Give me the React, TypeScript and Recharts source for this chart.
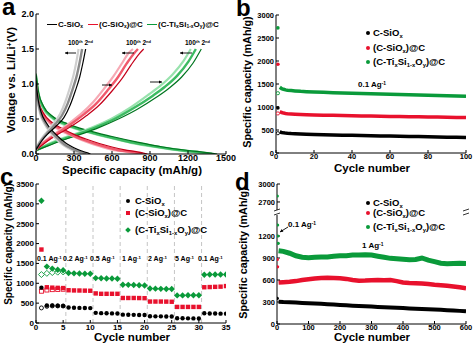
import React from 'react'
import { ComposedChart, Line, Scatter, XAxis, YAxis, ReferenceLine } from 'recharts'

const FONT = '"Liberation Sans", Arial, Helvetica, sans-serif'

// ---------- panel a : voltage profiles (capacity mAh/g, voltage V) ----------
const capTicks = [0, 300, 600, 900, 1200, 1500]
const voltTicks = [0, 0.5, 1.0, 1.5, 2.0]

const blackCharge2 = [[0, 0.06], [20, 0.12], [50, 0.2], [100, 0.3], [160, 0.4], [220, 0.52], [270, 0.7], [310, 0.9], [345, 1.1], [370, 1.3], [392, 1.5]]
const blackCharge50 = [[0, 0.06], [20, 0.13], [50, 0.21], [95, 0.31], [150, 0.42], [205, 0.55], [250, 0.72], [290, 0.93], [322, 1.12], [346, 1.32], [364, 1.5]]
const blackCharge100 = [[0, 0.06], [18, 0.14], [45, 0.22], [88, 0.32], [140, 0.44], [190, 0.57], [232, 0.75], [268, 0.95], [298, 1.14], [320, 1.33], [336, 1.5]]
const blackDis2 = [[0, 1.05], [15, 0.8], [40, 0.6], [80, 0.45], [130, 0.33], [180, 0.24], [240, 0.15], [300, 0.09], [350, 0.05], [400, 0.02], [430, 0]]
const blackDis50 = [[0, 1.0], [14, 0.78], [38, 0.58], [75, 0.44], [120, 0.32], [168, 0.23], [222, 0.14], [280, 0.08], [330, 0.04], [370, 0.02], [395, 0]]
const blackDis100 = [[0, 0.95], [13, 0.75], [35, 0.56], [70, 0.42], [112, 0.31], [155, 0.22], [205, 0.14], [258, 0.08], [300, 0.04], [338, 0.02], [360, 0]]

const redCharge2 = [[0, 0.06], [50, 0.13], [120, 0.22], [200, 0.31], [300, 0.42], [400, 0.55], [500, 0.7], [600, 0.9], [680, 1.08], [750, 1.27], [810, 1.42], [850, 1.5]]
const redCharge50 = [[0, 0.06], [48, 0.14], [115, 0.23], [190, 0.32], [285, 0.44], [380, 0.57], [475, 0.72], [570, 0.92], [648, 1.1], [715, 1.29], [770, 1.43], [805, 1.5]]
const redCharge100 = [[0, 0.06], [45, 0.15], [110, 0.24], [180, 0.33], [270, 0.45], [360, 0.58], [450, 0.74], [540, 0.94], [615, 1.12], [680, 1.3], [730, 1.44], [765, 1.5]]
const redDis2 = [[0, 1.0], [20, 0.75], [60, 0.58], [120, 0.46], [200, 0.37], [300, 0.28], [400, 0.21], [500, 0.15], [600, 0.1], [700, 0.06], [800, 0.03], [880, 0]]
const redDis50 = [[0, 0.98], [19, 0.74], [57, 0.57], [114, 0.45], [190, 0.36], [285, 0.27], [380, 0.2], [475, 0.14], [570, 0.09], [665, 0.05], [760, 0.03], [840, 0]]
const redDis100 = [[0, 0.95], [18, 0.72], [54, 0.56], [108, 0.44], [180, 0.35], [270, 0.27], [360, 0.2], [450, 0.14], [540, 0.09], [630, 0.05], [720, 0.03], [800, 0]]

const greenCharge2 = [[0, 0.05], [100, 0.12], [200, 0.19], [350, 0.28], [500, 0.38], [650, 0.5], [800, 0.64], [950, 0.81], [1050, 0.94], [1150, 1.1], [1240, 1.3], [1305, 1.5]]
const greenCharge50 = [[0, 0.05], [97, 0.13], [194, 0.2], [340, 0.29], [485, 0.39], [630, 0.51], [775, 0.66], [920, 0.83], [1018, 0.96], [1115, 1.12], [1203, 1.32], [1262, 1.5]]
const greenCharge100 = [[0, 0.05], [94, 0.14], [188, 0.21], [330, 0.3], [470, 0.4], [610, 0.52], [750, 0.67], [890, 0.85], [985, 0.98], [1080, 1.14], [1165, 1.33], [1222, 1.5]]
const greenDis2 = [[0, 1.15], [20, 0.88], [60, 0.68], [130, 0.54], [250, 0.43], [400, 0.34], [600, 0.25], [800, 0.17], [1000, 0.1], [1200, 0.05], [1350, 0.02], [1430, 0]]
const greenDis50 = [[0, 1.12], [19, 0.86], [58, 0.67], [126, 0.53], [242, 0.42], [388, 0.33], [582, 0.24], [776, 0.16], [970, 0.1], [1164, 0.05], [1310, 0.02], [1390, 0]]
const greenDis100 = [[0, 1.08], [18, 0.84], [56, 0.65], [122, 0.52], [234, 0.41], [375, 0.33], [563, 0.24], [750, 0.16], [940, 0.1], [1128, 0.05], [1270, 0.02], [1350, 0]]

// ---------- panel b : cycling at 0.1 A/g ----------
const cycleTicksB = [0, 20, 40, 60, 80, 100]
const capTicksB = [0, 500, 1000, 1500, 2000, 2500, 3000]
const bCycles = [2, 3, 4, 5, 6, 8, 10, 13, 16, 20, 25, 30, 35, 40, 45, 50, 55, 60, 65, 70, 75, 80, 85, 90, 95, 100]
const bBlack = [455, 445, 438, 432, 428, 422, 418, 412, 407, 402, 397, 392, 388, 384, 380, 376, 372, 368, 364, 360, 356, 352, 348, 344, 340, 336]
const bRed = [900, 880, 868, 860, 855, 850, 845, 838, 832, 827, 822, 818, 814, 810, 806, 802, 798, 795, 792, 789, 786, 783, 780, 777, 774, 770]
const bGreen = [1430, 1400, 1385, 1372, 1365, 1357, 1350, 1340, 1333, 1325, 1318, 1311, 1305, 1300, 1295, 1290, 1284, 1279, 1273, 1268, 1262, 1256, 1250, 1244, 1238, 1232]
const bFirstDis = [980, 1930, 2720] // black, red, green, cycle 1
const bFirstCha = [430, 860, 1300]

// ---------- panel c : rate capability ----------
const cycleTicksC = [0, 5, 10, 15, 20, 25, 30, 35]
const capTicksC = [0, 500, 1000, 1500, 2000, 2500, 3000, 3500]
const cCycles = [1, 2, 3, 4, 5, 6, 7, 8, 9, 10, 11, 12, 13, 14, 15, 16, 17, 18, 19, 20, 21, 22, 23, 24, 25, 26, 27, 28, 29, 30, 31, 32, 33, 34, 35]
const cBlack = [890, 440, 440, 435, 430, 390, 385, 380, 378, 375, 255, 248, 245, 242, 240, 210, 208, 205, 203, 200, 170, 168, 167, 165, 163, 120, 118, 117, 116, 115, 245, 240, 238, 236, 235]
const cRed = [1850, 900, 890, 885, 880, 825, 820, 818, 815, 812, 745, 735, 735, 735, 735, 630, 630, 630, 628, 625, 540, 540, 540, 538, 535, 405, 405, 405, 405, 405, 900, 905, 910, 915, 930]
const cGreen = [3080, 1420, 1370, 1340, 1330, 1260, 1250, 1245, 1240, 1240, 1130, 1125, 1120, 1120, 1115, 965, 960, 955, 950, 945, 870, 865, 860, 858, 855, 695, 695, 698, 700, 700, 1215, 1220, 1220, 1220, 1220]
const cChaCycles = [1, 2, 3, 4, 5]
const cBlackCha = [380, 420, 430, 430, 428]
const cRedCha = [800, 830, 840, 845, 850]
const cGreenCha = [1220, 1250, 1270, 1280, 1285]
const rateBounds = [5.5, 10.5, 15.5, 20.5, 25.5, 30.5]
const rateLabels = ['0.1', '0.2', '0.5', '1', '2', '5', '0.1']

// ---------- panel d : long cycling at 1 A/g (broken axis) ----------
const cycleTicksD = [0, 100, 200, 300, 400, 500, 600]
const capTicksD = [0, 300, 600, 900, 1200, 2700, 3000]
const dCycles = [5, 20, 40, 60, 80, 100, 120, 140, 160, 180, 200, 220, 240, 260, 280, 300, 320, 340, 360, 380, 400, 420, 440, 460, 480, 500, 520, 540, 560, 580, 600]
const dGreen = [1000, 990, 965, 930, 910, 905, 910, 915, 915, 925, 930, 932, 940, 940, 945, 940, 925, 910, 895, 890, 882, 875, 880, 900, 870, 850, 828, 820, 825, 828, 825]
const dRed = [565, 570, 575, 585, 600, 610, 620, 628, 630, 628, 625, 615, 600, 590, 592, 598, 600, 598, 600, 585, 565, 558, 556, 552, 545, 535, 528, 520, 512, 500, 488]
const dBlack = [305, 300, 296, 292, 288, 284, 280, 275, 270, 266, 260, 255, 250, 246, 241, 237, 233, 229, 225, 221, 217, 213, 209, 205, 201, 197, 193, 189, 185, 179, 173]
// first activation cycles at 0.1 A/g
const dGreenFirst = [[1, 2800], [2, 1350], [3, 1200], [4, 1100]]
const dRedFirst = [[1, 880], [2, 780]]
const dBlackFirst = [[1, 350]]

// broken axis: values above the break are compressed
const brk = (v: number) => (v <= 1500 ? v : 1664 + (v - 2700) * 0.8167)
const unbrk = (t: number) => (t <= 1500 ? t : Math.round(2700 + (t - 1664) / 0.8167))

const BLACK = '#000000'
const RED = '#e8112d'
const GREEN = '#0a9a3a'

const xy = (arr: number[][], f = (v: number) => v) => arr.map(([x, y]) => ({ x, y: f(y) }))
const zip = (xs: number[], ys: number[]) => xs.map((x, i) => ({ x, y: ys[i] }))

const tickStyle = (size: number) => ({ fontSize: size, fontWeight: 700, fill: '#000', fontFamily: FONT })

function Frame({ xDomain, xTicks, yDomain, yTicks, size, yFmt }: any) {
  return [
    <XAxis key="xb" type="number" dataKey="x" domain={xDomain} ticks={xTicks} interval={0} height={14}
      tickSize={-3} tickMargin={4} tick={tickStyle(size)} stroke="#000" allowDataOverflow />,
    <XAxis key="xt" xAxisId="top" orientation="top" type="number" domain={xDomain} ticks={xTicks} interval={0}
      height={0} tickSize={-3} tick={false} stroke="#000" allowDataOverflow />,
    <YAxis key="yl" type="number" dataKey="y" domain={yDomain} ticks={yTicks} interval={0} width={30}
      tickSize={-3} tickMargin={5} tick={tickStyle(size)} tickFormatter={yFmt} stroke="#000" allowDataOverflow />,
    <YAxis key="yr" yAxisId="right" orientation="right" type="number" domain={yDomain} ticks={yTicks} interval={0}
      width={0} tickSize={-3} tick={false} stroke="#000" allowDataOverflow />,
  ]
}

const curve = (key: string, data: number[][], color: string, w: number) => (
  <Line key={key} data={xy(data)} dataKey="y" type="monotone" stroke={color} strokeWidth={w}
    dot={false} isAnimationActive={false} />
)

function PanelA() {
  return (
    <ComposedChart width={240} height={175} margin={{ top: 14, right: 14, bottom: 7, left: 6 }}>
      {Frame({ xDomain: [0, 1500], xTicks: capTicks, yDomain: [0, 2], yTicks: voltTicks, size: 9, yFmt: (v: number) => v.toFixed(1) })}
      {curve('gd100', greenDis100, '#98e2ad', 2.2)}
      {curve('gd50', greenDis50, '#3cbb62', 2.4)}
      {curve('gd2', greenDis2, '#00751f', 1.2)}
      {curve('gc100', greenCharge100, '#98e2ad', 2.2)}
      {curve('gc50', greenCharge50, '#3cbb62', 2.4)}
      {curve('gc2', greenCharge2, '#00751f', 1.2)}
      {curve('rd100', redDis100, '#f6a9b4', 2.2)}
      {curve('rd50', redDis50, '#f0596c', 2.4)}
      {curve('rd2', redDis2, '#c4001a', 1.2)}
      {curve('rc100', redCharge100, '#f6a9b4', 2.2)}
      {curve('rc50', redCharge50, '#f0596c', 2.4)}
      {curve('rc2', redCharge2, '#c4001a', 1.2)}
      {curve('bd100', blackDis100, '#cfcfcf', 2.2)}
      {curve('bd50', blackDis50, '#8a8a8a', 2.4)}
      {curve('bd2', blackDis2, '#000', 1.2)}
      {curve('bc100', blackCharge100, '#cfcfcf', 2.2)}
      {curve('bc50', blackCharge50, '#8a8a8a', 2.4)}
      {curve('bc2', blackCharge2, '#000', 1.2)}
    </ComposedChart>
  )
}

const dotShape = (color: string, r: number, open = false) => (p: any) => (
  <circle cx={p.cx} cy={p.cy} r={r} fill={open ? '#fff' : color} stroke={color} strokeWidth={open ? 0.9 : 0} />
)
const squareShape = (color: string, s: number, open = false) => (p: any) => (
  <rect x={p.cx - s / 2} y={p.cy - s / 2} width={s} height={s} fill={open ? '#fff' : color} stroke={color} strokeWidth={open ? 0.9 : 0} />
)
const diamondShape = (color: string, s: number, open = false) => (p: any) => (
  <path d={`M${p.cx},${p.cy - s}L${p.cx + s},${p.cy}L${p.cx},${p.cy + s}L${p.cx - s},${p.cy}Z`}
    fill={open ? '#fff' : color} stroke={color} strokeWidth={open ? 0.9 : 0} />
)

function PanelB() {
  return (
    <ComposedChart width={234} height={175} margin={{ top: 15, right: 8, bottom: 8, left: 6 }}>
      {Frame({ xDomain: [0, 100], xTicks: cycleTicksB, yDomain: [0, 3000], yTicks: capTicksB, size: 7.5 })}
      <Line data={zip(bCycles, bBlack)} dataKey="y" type="linear" stroke={BLACK} strokeWidth={3.5} dot={false} isAnimationActive={false} />
      <Line data={zip(bCycles, bRed)} dataKey="y" type="linear" stroke={RED} strokeWidth={3.5} dot={false} isAnimationActive={false} />
      <Line data={zip(bCycles, bGreen)} dataKey="y" type="linear" stroke={GREEN} strokeWidth={3.5} dot={false} isAnimationActive={false} />
      <Scatter data={[{ x: 1, y: bFirstCha[0] }]} shape={dotShape(BLACK, 1.6, true)} isAnimationActive={false} />
      <Scatter data={[{ x: 1, y: bFirstCha[1] }]} shape={dotShape(RED, 1.6, true)} isAnimationActive={false} />
      <Scatter data={[{ x: 1, y: bFirstCha[2] }]} shape={dotShape(GREEN, 1.6, true)} isAnimationActive={false} />
      <Scatter data={[{ x: 1, y: bFirstDis[0] }]} shape={dotShape(BLACK, 1.8)} isAnimationActive={false} />
      <Scatter data={[{ x: 1, y: bFirstDis[1] }]} shape={dotShape(RED, 1.8)} isAnimationActive={false} />
      <Scatter data={[{ x: 1, y: bFirstDis[2] }]} shape={dotShape(GREEN, 1.8)} isAnimationActive={false} />
    </ComposedChart>
  )
}

function PanelC() {
  return (
    <ComposedChart width={240} height={171} margin={{ top: 9, right: 14, bottom: 9, left: 6 }}>
      {Frame({ xDomain: [0, 35], xTicks: cycleTicksC, yDomain: [0, 3500], yTicks: capTicksC, size: 8 })}
      {rateBounds.map((b) => (
        <ReferenceLine key={b} x={b} stroke="#b5b5b5" strokeDasharray="4 3" strokeWidth={0.8} />
      ))}
      <Scatter data={zip(cChaCycles, cBlackCha)} shape={dotShape(BLACK, 2, true)} isAnimationActive={false} />
      <Scatter data={zip(cChaCycles, cRedCha)} shape={squareShape(RED, 4, true)} isAnimationActive={false} />
      <Scatter data={zip(cChaCycles, cGreenCha)} shape={diamondShape(GREEN, 3, true)} isAnimationActive={false} />
      <Scatter data={zip(cCycles, cBlack)} shape={dotShape(BLACK, 2.2)} isAnimationActive={false} />
      <Scatter data={zip(cCycles, cRed)} shape={squareShape(RED, 4.4)} isAnimationActive={false} />
      <Scatter data={zip(cCycles, cGreen)} shape={diamondShape(GREEN, 3.2)} isAnimationActive={false} />
    </ComposedChart>
  )
}

function PanelD() {
  return (
    <ComposedChart width={234} height={171} margin={{ top: 9, right: 8, bottom: 8, left: 7 }}>
      {Frame({ xDomain: [0, 600], xTicks: cycleTicksD, yDomain: [0, brk(3000)], yTicks: capTicksD.map(brk), size: 7.5, yFmt: unbrk })}
      <Line data={zip(dCycles, dBlack)} dataKey="y" type="linear" stroke={BLACK} strokeWidth={4} dot={false} isAnimationActive={false} />
      <Line data={zip(dCycles, dRed)} dataKey="y" type="linear" stroke={RED} strokeWidth={4.5} dot={false} isAnimationActive={false} />
      <Line data={zip(dCycles, dGreen)} dataKey="y" type="linear" stroke={GREEN} strokeWidth={5} dot={false} isAnimationActive={false} />
      <Scatter data={xy(dBlackFirst, brk)} shape={dotShape(BLACK, 1.6)} isAnimationActive={false} />
      <Scatter data={xy(dRedFirst, brk)} shape={dotShape(RED, 1.6)} isAnimationActive={false} />
      <Scatter data={xy(dGreenFirst, brk)} shape={dotShape(GREEN, 1.6)} isAnimationActive={false} />
    </ComposedChart>
  )
}

const Abs = ({ x, y, w, h, children }: any) => (
  <div style={{ position: 'absolute', left: x, top: y, width: w, height: h }}>{children}</div>
)

const Txt = ({ x, y, size, children, rotate, anchor = 'start', weight = 700 }: any) => {
  const tx = anchor === 'middle' ? '-50%' : anchor === 'end' ? '-100%' : '0'
  return (
    <div style={{
      position: 'absolute', left: x, top: y, fontSize: size, fontWeight: weight, whiteSpace: 'nowrap', lineHeight: 1,
      transform: `translate(${tx}, -50%)${rotate ? ` rotate(${rotate}deg)` : ''}`,
      transformOrigin: rotate ? '50% 50%' : undefined,
    }}>{children}</div>
  )
}

// panel letters: tight line box so the glyph sits at the given top
const Letter = ({ x, y, children }: any) => (
  <div style={{ position: 'absolute', left: x, top: y, fontSize: 24, fontWeight: 700, lineHeight: 0.6 }}>{children}</div>
)

const Sub = ({ children }: any) => <sub style={{ fontSize: '0.62em', verticalAlign: '-0.25em', lineHeight: 0 }}>{children}</sub>
const Sup = ({ children }: any) => <sup style={{ fontSize: '0.62em', verticalAlign: '0.45em', lineHeight: 0 }}>{children}</sup>

const L1 = () => <>C-SiO<Sub>x</Sub></>
const L2 = () => <>(C-SiO<Sub>x</Sub>)@C</>
const L3 = () => <>(C-Ti<Sub>x</Sub>Si<Sub>1-x</Sub>O<Sub>y</Sub>)@C</>
const Rate = ({ v }: any) => <>{v} Ag<Sup>-1</Sup></>

function Legend({ x, ys, size }: any) {
  const cols = [BLACK, RED, GREEN]
  const labels = [<L1 />, <L2 />, <L3 />]
  return (
    <>
      {ys.map((y: number, i: number) => (
        <React.Fragment key={i}>
          <div style={{ position: 'absolute', left: x - 1.6, top: y - 1.6, width: 3.2, height: 3.2, borderRadius: 2, background: cols[i] }} />
          <Txt x={x + 5} y={y} size={size}>{labels[i]}</Txt>
        </React.Fragment>
      ))}
    </>
  )
}

function LegendC() {
  const ys = [201, 213, 230]
  return (
    <>
      <div style={{ position: 'absolute', left: 126, top: ys[0] - 2.2, width: 4.4, height: 4.4, borderRadius: 3, background: BLACK }} />
      <div style={{ position: 'absolute', left: 126, top: ys[1] - 2.2, width: 4.4, height: 4.4, background: RED }} />
      <div style={{ position: 'absolute', left: 126.3, top: ys[2] - 2, width: 4, height: 4, background: GREEN, transform: 'rotate(45deg)' }} />
      <Txt x={135} y={ys[0]} size={9.5}><L1 /></Txt>
      <Txt x={135} y={ys[1]} size={9.5}><L2 /></Txt>
      <Txt x={135} y={ys[2]} size={9.5}><L3 /></Txt>
    </>
  )
}

function Arrow({ x1, y1, x2, y2 }: any) {
  const a = Math.atan2(y2 - y1, x2 - x1)
  const h = 3
  const p1 = [x2 - h * Math.cos(a) + 1.6 * Math.sin(a), y2 - h * Math.sin(a) - 1.6 * Math.cos(a)]
  const p2 = [x2 - h * Math.cos(a) - 1.6 * Math.sin(a), y2 - h * Math.sin(a) + 1.6 * Math.cos(a)]
  return (
    <g>
      <line x1={x1} y1={y1} x2={x2} y2={y2} stroke="#000" strokeWidth={0.9} />
      <path d={`M${x2},${y2}L${p1[0]},${p1[1]}L${p2[0]},${p2[1]}Z`} fill="#000" />
    </g>
  )
}

export default function App() {
  const lgA = 8
  return (
    <div style={{ position: 'absolute', left: 0, top: 0, width: 474, height: 346, overflow: 'hidden', background: '#fff', fontFamily: FONT, color: '#000' }}>
      <Abs x={0} y={0} w={240} h={175}><PanelA /></Abs>
      <Abs x={240} y={0} w={234} h={175}><PanelB /></Abs>
      <Abs x={0} y={175} w={240} h={171}><PanelC /></Abs>
      <Abs x={240} y={175} w={234} h={171}><PanelD /></Abs>

      <Letter x={2} y={0}>a</Letter>
      <Letter x={236} y={1}>b</Letter>
      <Letter x={0} y={170}>c</Letter>
      <Letter x={235} y={175}>d</Letter>

      {/* axis titles */}
      <Txt x={12} y={80} size={11.5} anchor="middle" rotate={-90}>Voltage vs. Li/Li<Sup>+</Sup>(V)</Txt>
      <Txt x={132} y={170.5} size={11.5} anchor="middle">Specific capacity (mAh/g)</Txt>
      <Txt x={247} y={82} size={10.8} anchor="middle" rotate={-90}>Specific capacity (mAh/g)</Txt>
      <Txt x={372} y={169} size={11.5} anchor="middle">Cycle number</Txt>
      <Txt x={9} y={244} size={10} anchor="middle" rotate={-90}>Specific capacity (mAh/g)</Txt>
      <Txt x={132} y={338} size={11.5} anchor="middle">Cycle number</Txt>
      <Txt x={243} y={253} size={10.8} anchor="middle" rotate={-90}>Specific capacity (mAh/g)</Txt>
      <Txt x={372} y={338} size={11.5} anchor="middle">Cycle number</Txt>

      {/* panel a legend */}
      <div style={{ position: 'absolute', left: 47, top: 24, width: 10, height: 1.2, background: BLACK }} />
      <Txt x={58} y={24.5} size={lgA}><L1 /></Txt>
      <div style={{ position: 'absolute', left: 88, top: 24, width: 10, height: 1.2, background: RED }} />
      <Txt x={99} y={24.5} size={lgA}><L2 /></Txt>
      <div style={{ position: 'absolute', left: 147, top: 24, width: 10, height: 1.2, background: GREEN }} />
      <Txt x={158} y={24.5} size={lgA}><L3 /></Txt>
      <Txt x={68} y={43} size={6.5}>100<Sup>th</Sup> 2<Sup>nd</Sup></Txt>
      <Txt x={126} y={43} size={6.5}>100<Sup>th</Sup> 2<Sup>nd</Sup></Txt>
      <Txt x={185} y={43} size={6.5}>100<Sup>th</Sup> 2<Sup>nd</Sup></Txt>

      {/* panel b */}
      <Legend x={368} ys={[33, 48, 62]} size={9.5} />
      <Txt x={358} y={85} size={8}><Rate v="0.1" /></Txt>

      {/* panel c */}
      <LegendC />
      {rateLabels.map((r, i) => (
        <Txt key={i} x={[37, 63, 90, 122, 148, 175, 198][i]} y={258} size={7}><Rate v={r} /></Txt>
      ))}

      {/* panel d */}
      <Legend x={368} ys={[203, 213, 227]} size={9.5} />
      <Txt x={288} y={225} size={8}><Rate v="0.1" /></Txt>
      <Txt x={362} y={246} size={8}><Rate v="1" /></Txt>

      <svg width={474} height={346} style={{ position: 'absolute', left: 0, top: 0, pointerEvents: 'none' }}>
        <Arrow x1={76} y1={53} x2={65} y2={53} />
        <Arrow x1={134} y1={53} x2={122} y2={53} />
        <Arrow x1={192} y1={53} x2={180} y2={53} />
        <Arrow x1={102} y1={85} x2={112} y2={85} />
        <Arrow x1={150} y1={82} x2={162} y2={82} />
        <Arrow x1={288} y1={227} x2={280} y2={232} />
        {/* axis break marks */}
        <rect x={275} y={210} width={4} height={5} fill="#fff" />
        <line x1={274} y1={211} x2={280} y2={209} stroke="#000" strokeWidth={0.8} />
        <line x1={274} y1={215} x2={280} y2={213} stroke="#000" strokeWidth={0.8} />
        <rect x={464} y={210} width={4} height={5} fill="#fff" />
        <line x1={463} y1={211} x2={469} y2={209} stroke="#000" strokeWidth={0.8} />
        <line x1={463} y1={215} x2={469} y2={213} stroke="#000" strokeWidth={0.8} />
      </svg>
    </div>
  )
}
